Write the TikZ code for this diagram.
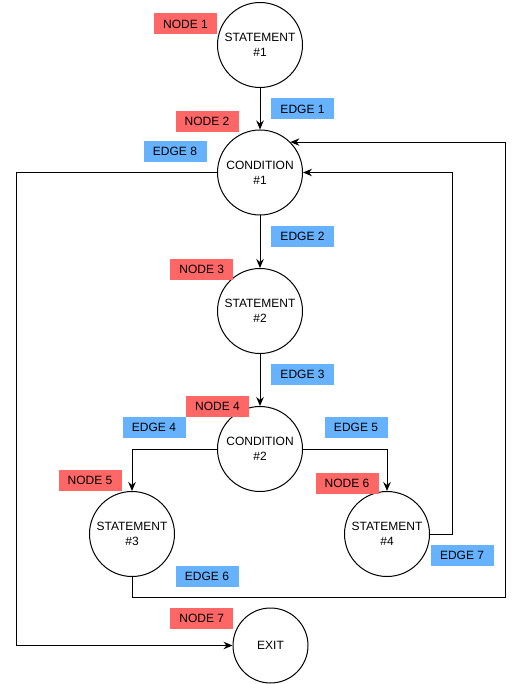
\documentclass[tikz,border=0pt]{standalone}
\usepackage{fontspec}
\setmainfont{Liberation Sans}
\usetikzlibrary{positioning,calc,arrows.meta}
\definecolor{rouge}{HTML}{FF6666}
\definecolor{bleu}{HTML}{66B2FF}
\tikzset{
	etat/.style={draw,circle,line width=1pt,minimum size=85pt,inner sep=0pt,align=center,font=\fontsize{12}{15}\selectfont},
	etiq/.style={minimum width=63pt,minimum height=21pt,inner sep=0pt,font=\fontsize{12}{14}\selectfont},
	noeud/.style={etiq,fill=rouge},
	arete/.style={etiq,fill=bleu},
	fleche/.style={line width=1pt,-{Stealth[length=9pt,width=7.5pt,inset=3pt]}}
}

\begin{document}
\begin{tikzpicture}[x=1pt,y=-1pt]
	
	\useasboundingbox (0,0) rectangle (521,684);
	
	%Sommets
	\node[etat] (st1) at (260,45) {STATEMENT\\\#1};
	\node[etat] (cond1) at (260,172.5) {CONDITION\\\#1};
	\node[etat] (st2) at (260,311) {STATEMENT\\\#2};
	\node[etat] (cond2) at (260,449) {CONDITION\\\#2};
	\node[etat] (st3) at (132,534) {STATEMENT\\\#3};
	\node[etat] (st4) at (387,534) {STATEMENT\\\#4};
	\node[etat,minimum size=75pt] (exit) at (270.5,645.5) {EXIT};
	
	%Coins des aretes
	\coordinate (c6) at (505,597.5);
	\coordinate (c7) at (452,0);
	\coordinate (c8) at (16,0);
	
	%Aretes
	\draw[fleche] (st1) -- (cond1);
	\draw[fleche] (cond1) -- (st2);
	\draw[fleche] (st2) -- (cond2);
	\draw[fleche] (cond2.west) -| (st3.north);
	\draw[fleche] (cond2.east) -| (st4.north);
	\draw[fleche] (st3.south) |- (c6) |- (cond1.45);
	\draw[fleche] (st4.east) -| (c7 |- cond1.east) -- (cond1.east);
	\draw[fleche] (cond1.west) -| (c8 |- exit.west) -- (exit.west);
	
	%Etiquettes des sommets
	\node[noeud] (n1) at (185.5,24) {NODE 1};
	\node[noeud] (n2) at (207,121.7) {NODE 2};
	\node[noeud] (n3) at (201.7,269.5) {NODE 3};
	\node[noeud] (n4) at (217.5,406.5) {NODE 4};
	\node[noeud] (n5) at (90,480.8) {NODE 5};
	\node[noeud] (n6) at (347,483.8) {NODE 6};
	\node[noeud] (n7) at (201.7,618.8) {NODE 7};
	
	%Etiquettes des aretes
	\node[arete] (e1) at (302.5,109) {EDGE 1};
	\node[arete] (e2) at (302.5,236.5) {EDGE 2};
	\node[arete] (e3) at (302.5,374.5) {EDGE 3};
	\node[arete] (e4) at (154,427.8) {EDGE 4};
	\node[arete] (e5) at (356,427.8) {EDGE 5};
	\node[arete] (e6) at (207,576.5) {EDGE 6};
	\node[arete] (e7) at (462,555) {EDGE 7};
	\node[arete] (e8) at (175,151.7) {EDGE 8};
	
\end{tikzpicture}
\end{document}
